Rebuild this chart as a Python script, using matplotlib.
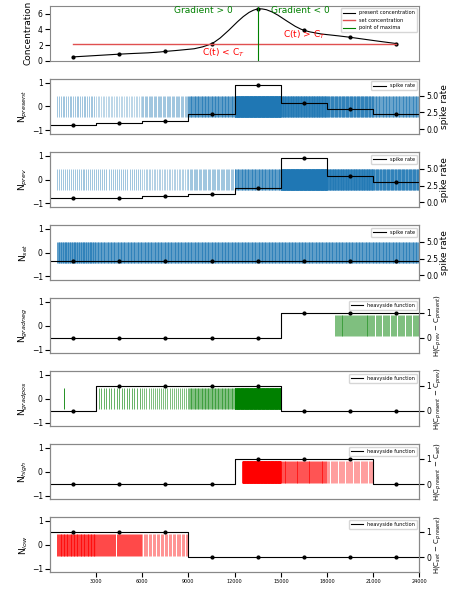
import numpy as np
import matplotlib
matplotlib.use("Agg")
import matplotlib.pyplot as plt
from matplotlib.path import Path
from matplotlib.patches import PathPatch

t_mid = [1500, 4500, 7500, 10500, 13500, 16500, 19500, 22500]
edges = [0, 3000, 6000, 9000, 12000, 15000, 18000, 21000, 24000]
conc = [0.5, 0.85, 1.2, 2.2, 6.6, 3.9, 3.0, 2.2]
c_set = 2.2
rate_present = [0.6, 0.9, 1.2, 2.2, 6.6, 3.9, 3.0, 2.2]
rate_prev = [0.6, 0.6, 0.9, 1.2, 2.2, 6.6, 3.9, 3.0]
rate_set = [2.2] * 8
h_gradneg = [0, 0, 0, 0, 0, 1, 1, 1]
h_gradpos = [0, 1, 1, 1, 1, 0, 0, 0]
h_high = [0, 0, 0, 0, 1, 1, 1, 0]
h_low = [1, 1, 1, 0, 0, 0, 0, 0]
# spike counts per interval, and shading level per interval
cnt_present = [22, 28, 36, 60, 220, 110, 80, 60]
cnt_prev = [20, 22, 28, 36, 60, 220, 110, 80]
cnt_set = [60] * 8
cnt_gradneg = [0, 0, 0, 0, 0, 0, 40, 40]
cnt_gradpos = [1, 18, 22, 60, 220, 0, 0, 0]
cnt_high = [0, 0, 0, 0, 220, 50, 40, 0]
cnt_low = [50, 45, 35, 0, 0, 0, 0, 0]
alpha_present = [0.5, 0.35, 0.5, 0.85, 1.0, 0.85, 0.85, 0.8]
alpha_prev = [0.5, 0.5, 0.4, 0.5, 0.85, 1.0, 0.85, 0.85]
alpha_set = [0.85] * 8
alpha_gradneg = [0, 0, 0, 0, 0, 0, 0.6, 0.6]
alpha_gradpos = [1.0, 0.7, 0.6, 0.6, 1.0, 0, 0, 0]
alpha_high = [0, 0, 0, 0, 1.0, 0.8, 0.45, 0]
alpha_low = [0.9, 0.85, 0.5, 0, 0, 0, 0, 0]

fig = plt.figure(figsize=(4.74, 5.9), dpi=100)
axes = fig.subplots(8, 1, sharex=True)
fig.subplots_adjust(left=0.105, right=0.885, top=0.99, bottom=0.03, hspace=0.33)
lab_fs = 6.5
tick_fs = 5.5

# top panel
ax = axes[0]
x = np.array(t_mid, float); y = np.array(conc, float)
verts = [(x[0], y[0])]; codes = [Path.MOVETO]
for i in range(len(x) - 1):
    p0 = (x[i-1], y[i-1]) if i > 0 else (x[i], y[i])
    p3 = (x[i+2], y[i+2]) if i + 2 < len(x) else (x[i+1], y[i+1])
    c1 = (x[i] + (x[i+1] - p0[0]) / 6, y[i] + (y[i+1] - p0[1]) / 6)
    c2 = (x[i+1] - (p3[0] - x[i]) / 6, y[i+1] - (p3[1] - y[i]) / 6)
    verts += [c1, c2, (x[i+1], y[i+1])]; codes += [Path.CURVE4] * 3
ax.add_patch(PathPatch(Path(verts, codes), fill=False, color='black', lw=0.8))
ax.plot([], [], color='black', lw=0.8, label='present concentration')
ax.plot(t_mid, conc, 'o', color='black', ms=2)
ax.plot([t_mid[0], t_mid[-1]], [c_set, c_set], color='#e05050', lw=1, label='set concentration')
imax = int(np.argmax(conc))
ax.plot([t_mid[imax]] * 2, [0, 7], color='green', lw=0.8, label='point of maxima')
ax.set_ylim(0, 7)
ax.set_yticks([0, 2, 4, 6])
ax.set_ylabel('Concentration', fontsize=lab_fs)
ax.text(10000, 6.4, 'Gradient > 0', color='green', fontsize=6.5, ha='center', va='center')
ax.text(16300, 6.4, 'Gradient < 0', color='green', fontsize=6.5, ha='center', va='center')
ax.text(16500, 3.3, 'C(t) > C$_T$', color='red', fontsize=6.5, ha='center', va='center')
ax.text(11300, 1.0, 'C(t) < C$_T$', color='red', fontsize=6.5, ha='center', va='center')
ax.legend(loc='upper right', fontsize=3.6, handlelength=2.5)

def raster(ax, counts, alphas, color):
    first = True
    for i in range(8):
        n = counts[i]
        if n == 0:
            continue
        lo, hi = edges[i], edges[i+1]
        if n == 1:
            ts = [lo + 900]
        else:
            start = lo + 500 if first else lo
            ts = np.linspace(start, hi, n, endpoint=False)
        first = False
        ax.vlines(ts, -0.45, 0.45, color=color, alpha=alphas[i], lw=0.6)

panels = [
    ('N$_{present}$', cnt_present, alpha_present, '#1f77b4', rate_present, 'spike rate', 'spike rate'),
    ('N$_{prev}$', cnt_prev, alpha_prev, '#1f77b4', rate_prev, 'spike rate', 'spike rate'),
    ('N$_{set}$', cnt_set, alpha_set, '#1f77b4', rate_set, 'spike rate', 'spike rate'),
    ('N$_{gradneg}$', cnt_gradneg, alpha_gradneg, 'green', h_gradneg, 'heavyside function', 'H(C$_{prev}$ $-$ C$_{present}$)'),
    ('N$_{gradpos}$', cnt_gradpos, alpha_gradpos, 'green', h_gradpos, 'heavyside function', 'H(C$_{present}$ $-$ C$_{prev}$)'),
    ('N$_{high}$', cnt_high, alpha_high, 'red', h_high, 'heavyside function', 'H(C$_{present}$ $-$ C$_{set}$)'),
    ('N$_{low}$', cnt_low, alpha_low, 'red', h_low, 'heavyside function', 'H(C$_{set}$ $-$ C$_{present}$)'),
]
for k, (lab, cnt, al, col, step, leg, rlab) in enumerate(panels):
    ax = axes[k + 1]
    raster(ax, cnt, al, col)
    ax.set_ylim(-1.15, 1.15)
    ax.set_yticks([-1.0, 0.0, 1.0])
    ax.set_ylabel(lab, fontsize=lab_fs, labelpad=1)
    ax2 = ax.twinx()
    vals = list(step) + [step[-1]]
    ax2.step(edges, vals, where='post', color='black', lw=0.8, label=leg)
    ax2.plot(t_mid, step, 'o', color='black', ms=2)
    if k < 3:
        ax2.set_ylim(-0.7, 7.5)
        ax2.set_yticks([0.0, 2.5, 5.0])
        ax2.set_ylabel(rlab, fontsize=lab_fs, labelpad=1)
    else:
        ax2.set_ylim(-0.6, 1.57)
        ax2.set_yticks([0, 1])
        ax2.set_ylabel(rlab, fontsize=5, labelpad=1)
    ax2.tick_params(labelsize=tick_fs, pad=1.5)
    ax2.legend(loc='upper right', fontsize=3.6, handlelength=2.5)
    for s in ax2.spines.values():
        s.set_color('#888888')

for ax in axes:
    ax.tick_params(labelsize=tick_fs, pad=1.5)
    for s in ax.spines.values():
        s.set_color('#888888')
axes[-1].set_xlim(0, 24000)
axes[-1].set_xticks(range(3000, 24001, 3000))
axes[-1].tick_params(axis='x', labelsize=3.5)
for ax in axes[:-1]:
    ax.tick_params(axis='x', length=0)

fig.savefig('out.png', dpi=100)
